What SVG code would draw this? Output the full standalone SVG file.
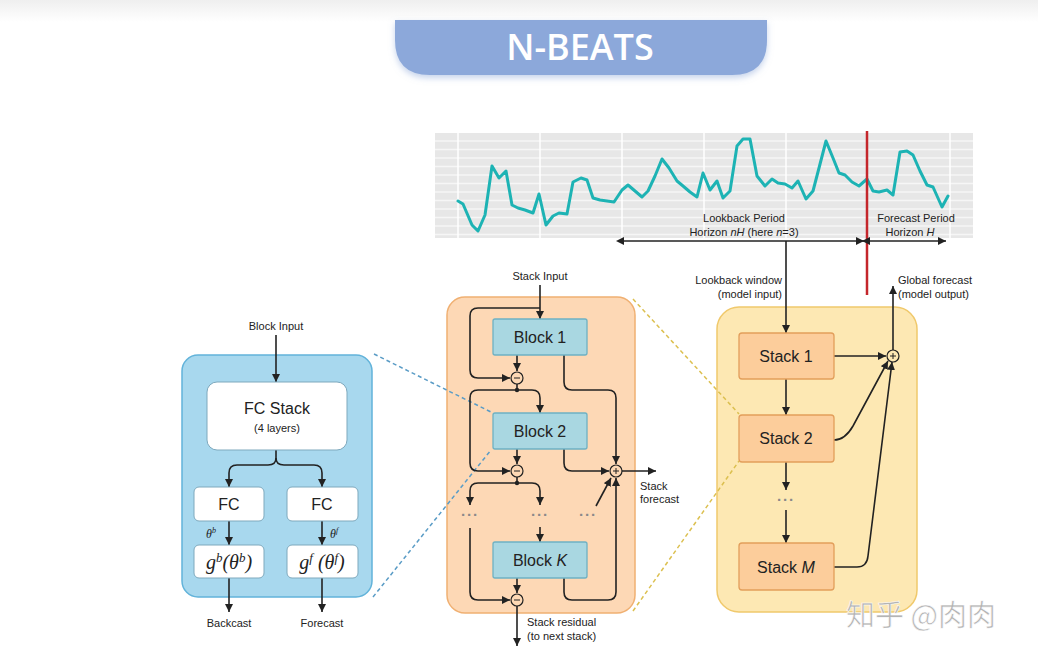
<svg xmlns="http://www.w3.org/2000/svg" width="1038" height="658" viewBox="0 0 1038 658">
<defs>
<linearGradient id="topg" x1="0" y1="0" x2="0" y2="1">
<stop offset="0" stop-color="#efefef"/>
<stop offset="1" stop-color="#ffffff"/>
</linearGradient>
<filter id="sh" x="-10%" y="-20%" width="120%" height="160%">
<feDropShadow dx="0" dy="3" stdDeviation="3" flood-color="#8da8d8" flood-opacity="0.5"/>
</filter>
<marker id="ah" viewBox="0 0 10 10" refX="10" refY="5" markerWidth="8" markerHeight="8" markerUnits="userSpaceOnUse" orient="auto">
<path d="M0,0 L10,5 L0,10 z" fill="#222"/>
</marker>
<marker id="ahs" viewBox="0 0 10 10" refX="0" refY="5" markerWidth="8" markerHeight="8" markerUnits="userSpaceOnUse" orient="auto-start-reverse">
<path d="M0,0 L10,5 L0,10 z" fill="#222"/>
</marker>
</defs>
<style>
.lbl{font-family:"Liberation Sans",Arial,sans-serif;font-size:11px;fill:#222}
.big{font-family:"Liberation Sans",Arial,sans-serif;font-size:16px;fill:#222}
.ln{fill:none;stroke:#222;stroke-width:1.6}
.ar{fill:none;stroke:#222;stroke-width:1.6;marker-end:url(#ah)}
.blk{fill:#a9d7e1;stroke:#6eb1c3;stroke-width:1.3}
.stk{fill:#fccd9b;stroke:#e29e5b;stroke-width:1.3}
.wb{fill:#ffffff;stroke:#7fa9bd;stroke-width:1}
.op{fill:#fdd8b4;stroke:#222;stroke-width:1.2}
.dots{font-family:"Liberation Sans",Arial,sans-serif;font-size:15px;font-weight:bold;fill:#8a8a8a;text-anchor:middle;letter-spacing:1px}
.math{font-family:"Liberation Serif","Times New Roman",serif;font-style:italic;fill:#222}
</style>
<rect x="0" y="0" width="1038" height="658" fill="#ffffff"/>
<rect x="0" y="0" width="1038" height="22" fill="url(#topg)"/>
<g id="title">
<path d="M395,20 H767 V40 Q767,75 732,75 H430 Q395,75 395,40 Z" fill="#8ca8da" filter="url(#sh)"/>
<text x="580" y="60" text-anchor="middle" font-family="'Open Sans','Noto Sans',sans-serif" font-size="36" font-weight="600" fill="#ffffff">N-BEATS</text>
</g>
<g id="chart">
<rect x="435" y="133" width="538" height="105" fill="#e7e7e7"/>
<g stroke="#f6f6f6" stroke-width="1.3">
<line x1="435" y1="141" x2="973" y2="141"/>
<line x1="435" y1="149.5" x2="973" y2="149.5"/>
<line x1="435" y1="158" x2="973" y2="158"/>
<line x1="435" y1="166.5" x2="973" y2="166.5"/>
<line x1="435" y1="175" x2="973" y2="175"/>
<line x1="435" y1="183.5" x2="973" y2="183.5"/>
<line x1="435" y1="192" x2="973" y2="192"/>
<line x1="435" y1="200.5" x2="973" y2="200.5"/>
<line x1="435" y1="209" x2="973" y2="209"/>
<line x1="435" y1="217.5" x2="973" y2="217.5"/>
<line x1="435" y1="226" x2="973" y2="226"/>
<line x1="435" y1="234.5" x2="973" y2="234.5"/>
</g>
<g stroke="#ffffff" stroke-width="1.5">
<line x1="458" y1="133" x2="458" y2="238"/>
<line x1="540" y1="133" x2="540" y2="238"/>
<line x1="622" y1="133" x2="622" y2="238"/>
<line x1="704" y1="133" x2="704" y2="238"/>
<line x1="786" y1="133" x2="786" y2="238"/>
<line x1="950" y1="133" x2="950" y2="238"/>
</g>
<polyline fill="none" stroke="#1db3b4" stroke-width="3" stroke-linejoin="round" stroke-linecap="round" points="458,201 463,204 472,225 478,231 485,215 492,166 499,178 506,171 512,205 518,208 525,210 533,213 539,194 546,225 553,216 559,213 567,214 573,182 581,178 587,180 593,198 600,200 607,201 614,202 622,190 628,185 635,191 642,197 648,191 655,176 662,159 669,168 677,181 683,186 690,192 697,197 703,173 710,190 717,181 723,198 730,191 737,146 743,139 750,139 757,176 765,186 772,179 778,183 785,184 792,188 798,181 806,199 813,191 819,168 826,141 833,158 839,173 845,175 852,182 859,186 867,179 873,191 879,192 887,190 893,195 900,152 907,151 913,155 920,171 927,185 933,187 942,207 948,196"/>
<text class="lbl" x="744" y="222" text-anchor="middle">Lookback Period</text>
<text class="lbl" x="744" y="236" text-anchor="middle">Horizon <tspan font-style="italic">nH</tspan> (here <tspan font-style="italic">n</tspan>=3)</text>
<text class="lbl" x="916" y="222" text-anchor="middle">Forecast Period</text>
<text class="lbl" x="910" y="236" text-anchor="middle">Horizon <tspan font-style="italic">H</tspan></text>
<line x1="867" y1="131" x2="867" y2="295" stroke="#c4262b" stroke-width="2.5"/>
</g>
<g id="panel-block">
<rect x="182" y="355" width="190" height="242" rx="16" fill="#a8d8ee" stroke="#62b3da" stroke-width="1.5"/>
</g>
<g id="panel-stack">
<rect x="447" y="297" width="188" height="316" rx="18" fill="#fdd8b5" stroke="#f0b072" stroke-width="1.5"/>
</g>
<g id="panel-model">
<rect x="717" y="307" width="200" height="305" rx="22" fill="#fde8b3" stroke="#f0c96c" stroke-width="1.5"/>
</g>
<g id="connectors">
<g stroke-width="1.5" stroke-dasharray="4 3" fill="none">
<path d="M374,354 L491,412" stroke="#5a9cc6"/>
<path d="M373,597 L491,450" stroke="#5a9cc6"/>
<path d="M633,299 L739,414" stroke="#dcc050"/>
<path d="M633,611 L739,461" stroke="#dcc050"/>
</g>
<path class="ln" d="M624,241 H864" marker-start="url(#ahs)" marker-end="url(#ah)"/>
<path class="ln" d="M870,241 H946" marker-start="url(#ahs)" marker-end="url(#ah)"/>
<path class="ar" d="M276,335 V382"/>
<path class="ar" d="M276,450 V458 Q276,465 268,465 H237 Q229,465 229,473 V487"/>
<path class="ar" d="M276,458 Q276,465 284,465 H314 Q322,465 322,473 V487"/>
<path class="ar" d="M229,521 V545"/>
<path class="ar" d="M322,521 V545"/>
<path class="ar" d="M229,578 V612"/>
<path class="ar" d="M322,578 V612"/>
<path class="ar" d="M540,285 V319"/>
<path class="ar" d="M540,308 H478 Q470,308 470,316 V370 Q470,378 478,378 H510"/>
<path class="ar" d="M517,355 V371"/>
<path class="ln" d="M517,384 V390"/>
<path class="ar" d="M517,390 H532 Q540,390 540,398 V413"/>
<path class="ar" d="M517,390 H478 Q470,390 470,398 V463 Q470,471 478,471 H510"/>
<path class="ar" d="M564,355 V382 Q564,390 572,390 H608 Q616,390 616,398 V464"/>
<path class="ar" d="M517,449 V464"/>
<path class="ar" d="M564,449 V463 Q564,471 572,471 H609"/>
<path class="ar" d="M622,471 H656"/>
<path class="ln" d="M517,477 V483"/>
<path class="ar" d="M517,483 H478 Q470,483 470,491 V505"/>
<path class="ar" d="M517,483 H532 Q540,483 540,491 V505"/>
<path class="ar" d="M540,527 V542"/>
<path class="ar" d="M470,528 V592 Q470,600 478,600 H510"/>
<path class="ar" d="M596,506 L611,478"/>
<path class="ar" d="M517,578 V593"/>
<path class="ar" d="M564,578 V592 Q564,600 572,600 H608 Q616,600 616,592 V478"/>
<path class="ar" d="M517,606 V646"/>
<path class="ar" d="M786,241 V333"/>
<path class="ar" d="M786,379 V415"/>
<path class="ar" d="M786,462 V490"/>
<path class="ar" d="M786,510 V543"/>
<path class="ar" d="M834,356 H886"/>
<path class="ar" d="M834,440 Q845,440 853,426 L888,361"/>
<path class="ar" d="M834,567 H857 Q867,567 868,556 L892,362"/>
<path class="ar" d="M893,350 V286"/>
</g>
<g id="block-input-label"><text class="lbl" x="276" y="330" text-anchor="middle">Block Input</text></g>
<g id="fc-stack">
<rect class="wb" x="207" y="382" width="140" height="68" rx="10"/>
<text class="big" x="277" y="414" text-anchor="middle" font-size="17">FC Stack</text>
<text class="lbl" x="277" y="432" text-anchor="middle">(4 layers)</text>
</g>
<g id="fc-b">
<rect class="wb" x="194" y="487" width="70" height="34" rx="5"/>
<text class="big" x="229" y="510" text-anchor="middle">FC</text>
</g>
<g id="fc-f">
<rect class="wb" x="287" y="487" width="71" height="34" rx="5"/>
<text class="big" x="322" y="510" text-anchor="middle">FC</text>
</g>
<g id="theta-labels">
<text class="math" x="206" y="538" font-size="12">θ<tspan font-size="8" dy="-5">b</tspan></text>
<text class="math" x="330" y="538" font-size="12">θ<tspan font-size="8" dy="-5">f</tspan></text>
</g>
<g id="g-b">
<rect class="wb" x="194" y="545" width="70" height="33" rx="5"/>
<text class="math" x="229" y="569" text-anchor="middle" font-size="20">g<tspan font-size="13" dy="-7">b</tspan><tspan dy="7">(θ</tspan><tspan font-size="13" dy="-7">b</tspan><tspan dy="7">)</tspan></text>
</g>
<g id="g-f">
<rect class="wb" x="287" y="545" width="71" height="33" rx="5"/>
<text class="math" x="322" y="569" text-anchor="middle" font-size="20">g<tspan font-size="13" dy="-7">f</tspan><tspan dy="7"> (θ</tspan><tspan font-size="13" dy="-7">f</tspan><tspan dy="7">)</tspan></text>
</g>
<g id="out-labels">
<text class="lbl" x="229" y="627" text-anchor="middle">Backcast</text>
<text class="lbl" x="322" y="627" text-anchor="middle">Forecast</text>
</g>
<g id="stack-input-label"><text class="lbl" x="540" y="280" text-anchor="middle">Stack Input</text></g>
<g id="block-1">
<rect class="blk" x="493" y="319" width="94" height="36" rx="2"/>
<text class="big" x="540" y="343" text-anchor="middle">Block 1</text>
</g>
<g id="block-2">
<rect class="blk" x="493" y="413" width="94" height="36" rx="2"/>
<text class="big" x="540" y="437" text-anchor="middle">Block 2</text>
</g>
<g id="block-k">
<rect class="blk" x="493" y="542" width="94" height="36" rx="2"/>
<text class="big" x="540" y="566" text-anchor="middle">Block <tspan font-style="italic">K</tspan></text>
</g>
<g id="ops-mid">
<circle class="op" cx="517" cy="378" r="6"/><line x1="514" y1="378" x2="520" y2="378" stroke="#222" stroke-width="1"/>
<circle cx="517" cy="390" r="2.2" fill="#222"/>
<circle class="op" cx="517" cy="471" r="6"/><line x1="514" y1="471" x2="520" y2="471" stroke="#222" stroke-width="1"/>
<circle cx="517" cy="483" r="2.2" fill="#222"/>
<circle class="op" cx="616" cy="471" r="6"/><path d="M613,471 H619 M616,468 V474" stroke="#222" stroke-width="1"/>
<circle class="op" cx="517" cy="600" r="6"/><line x1="514" y1="600" x2="520" y2="600" stroke="#222" stroke-width="1"/>
<text class="dots" x="470" y="520">···</text>
<text class="dots" x="540" y="520">···</text>
<text class="dots" x="588" y="520">···</text>
</g>
<g id="mid-labels">
<text class="lbl" x="640" y="490">Stack</text>
<text class="lbl" x="640" y="503">forecast</text>
<text class="lbl" x="527" y="626">Stack residual</text>
<text class="lbl" x="527" y="640">(to next stack)</text>
</g>
<g id="model-labels">
<text class="lbl" x="782" y="284" text-anchor="end">Lookback window</text>
<text class="lbl" x="782" y="298" text-anchor="end">(model input)</text>
<text class="lbl" x="898" y="284">Global forecast</text>
<text class="lbl" x="898" y="298">(model output)</text>
</g>
<g id="stack-1">
<rect class="stk" x="739" y="333" width="95" height="46" rx="3"/>
<text class="big" x="786" y="362" text-anchor="middle">Stack 1</text>
</g>
<g id="stack-2">
<rect class="stk" x="739" y="415" width="95" height="47" rx="3"/>
<text class="big" x="786" y="444" text-anchor="middle">Stack 2</text>
</g>
<g id="stack-dots"><text class="dots" x="786" y="505">···</text></g>
<g id="stack-m">
<rect class="stk" x="739" y="543" width="95" height="47" rx="3"/>
<text class="big" x="786" y="573" text-anchor="middle">Stack <tspan font-style="italic">M</tspan></text>
</g>
<g id="op-model">
<circle class="op" cx="893" cy="356" r="6" style="fill:#fde8b3"/><path d="M890,356 H896 M893,353 V359" stroke="#222" stroke-width="1"/>
</g>
<g id="watermark">
<text x="846" y="626" font-family="'Noto Sans CJK SC','Noto Sans',sans-serif" font-size="29" fill="#b4b4b4" stroke="#ffffff" stroke-width="0.6">知乎 @肉肉</text>
</g>
</svg>
